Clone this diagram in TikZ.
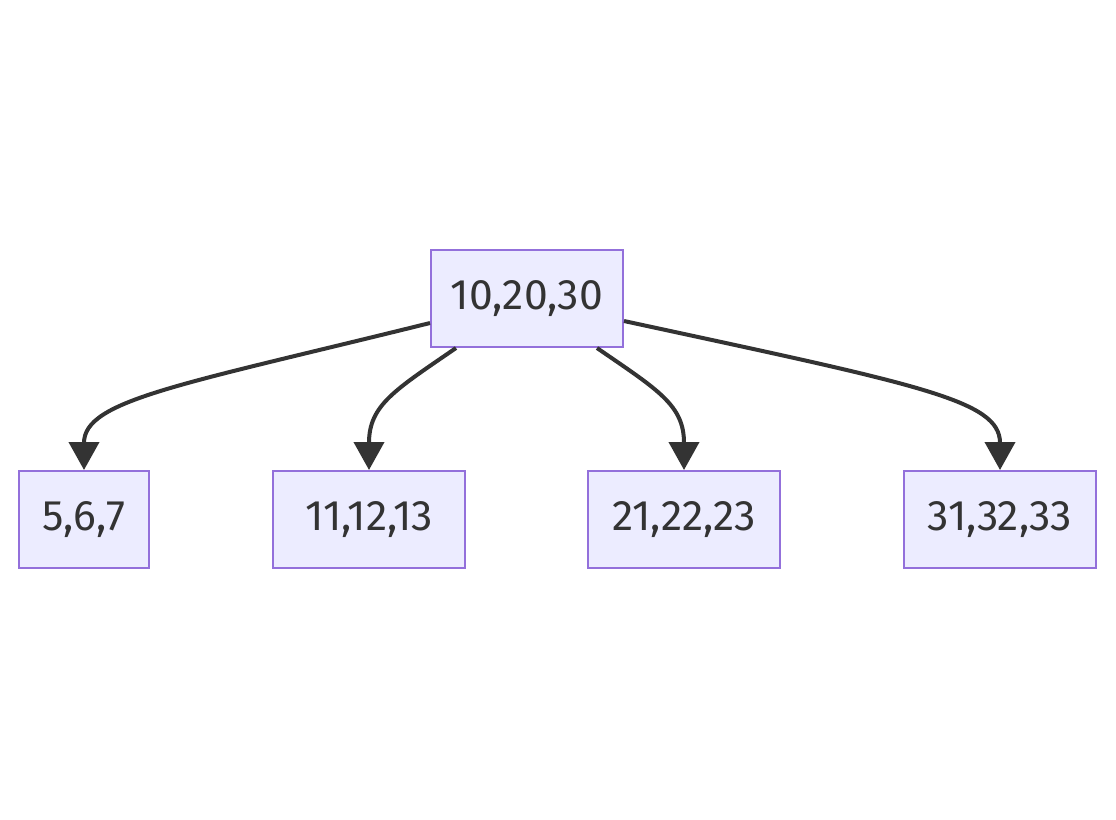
\documentclass[tikz,border=0pt]{standalone}
\usepackage{fontspec}
\setmainfont{Fira Sans}
\usetikzlibrary{arrows.meta,calc}
\definecolor{boxfill}{HTML}{ECECFF}
\definecolor{boxline}{HTML}{9370DB}
\definecolor{ink}{HTML}{333333}
\newcommand{\lift}[1]{\raisebox{4.5pt}{#1}}
\tikzset{
  box/.style={draw=boxline, fill=boxfill, line width=1.5pt, minimum height=72.75pt,
    minimum width=144pt, inner sep=0pt, text=ink, font=\fontsize{32}{38}\selectfont},
  link/.style={draw=ink, line width=3pt, -{Triangle[length=21pt,width=22.5pt]}}
}
\begin{document}
\begin{tikzpicture}[x=0.75pt,y=-0.75pt]
\useasboundingbox (0,0) rectangle (1116,819);
\node[box] (root) at (527,298.5) {\lift{10,20,30}};
\node[box, minimum width=97.5pt] (a) at (84,519.5) {\lift{5,6,7}};
\node[box] (b) at (369,519.5) {\lift{11,12,13}};
\node[box] (c) at (684,519.5) {\lift{21,22,23}};
\node[box] (d) at (1000,519.5) {\lift{31,32,33}};
\coordinate (s1) at ($(root.west)+(0,24.5)$);
\coordinate (s2) at ($(root.south west)+(26,0)$);
\coordinate (s3) at ($(root.south east)+(-27,0)$);
\coordinate (s4) at ($(root.east)+(0,22.5)$);
\draw[link] (s1) .. controls (180,385) and (84,400) .. (a.north);
\draw[link] (s2) .. controls (395,390) and (369,405) .. (b.north);
\draw[link] (s3) .. controls (658,390) and (684,405) .. (c.north);
\draw[link] (s4) .. controls (920,385) and (1000,400) .. (d.north);
\end{tikzpicture}
\end{document}
